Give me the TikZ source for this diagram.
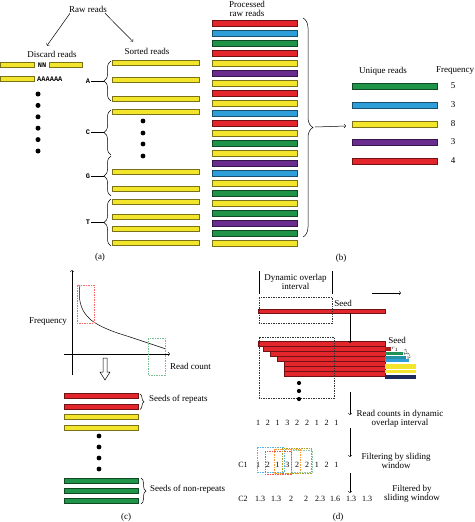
\documentclass[tikz,border=0pt]{standalone}
\usepackage{fontspec}
\setmainfont{Liberation Serif}
\setmonofont{Liberation Mono}
\usetikzlibrary{decorations.pathreplacing}
\definecolor{yel}{HTML}{F3E42C}
\definecolor{rd}{HTML}{E2262B}
\definecolor{bl}{HTML}{2E9ED8}
\definecolor{gr}{HTML}{1F9449}
\definecolor{pu}{HTML}{6A2D8F}
\definecolor{nv}{HTML}{1B2A5A}
\definecolor{tl}{HTML}{1C8C8C}
\definecolor{dr}{HTML}{A8201C}
\tikzset{
	bar/.style={draw=#1!50!black, fill=#1, line width=0.5pt},
	arr/.style={->, line width=0.5pt},
	brc/.style={decorate, decoration={brace, amplitude=#1}, line width=0.5pt},
	lbl/.style={font=\fontsize{9}{9.5}\selectfont, inner sep=1pt},
	nt/.style={font=\ttfamily\bfseries\fontsize{7}{8}\selectfont, inner sep=1pt},
	num/.style={font=\fontsize{8}{9}\selectfont, inner sep=0pt},
	win/.style={draw=#1, dashed, line width=0.4pt, dash pattern=on 1.5pt off 1pt}
}

\begin{document}
\begin{tikzpicture}[x=1pt,y=-1pt]
	\useasboundingbox (0,0) rectangle (474,522);

	% (a) raw reads
	\node[lbl] (raw) at (88,9) {Raw reads};
	\node[lbl] (discard) at (52,54) {Discard reads};
	\node[lbl] (sorted) at (147,51) {Sorted reads};
	\draw[arr] ([xshift=2pt]raw.south west) -- ([xshift=-5pt,yshift=4pt]discard.north);
	\draw[arr] ([xshift=-3pt]raw.south east) -- ([xshift=-14pt,yshift=5pt]sorted.north);

	\draw[bar=yel] (0.5,62.5) rectangle (34,67.5);
	\node[nt] (nn) at (42,65) {NN};
	\draw[bar=yel] (49,62.5) rectangle (82,67.5);
	\draw[bar=yel] (0.5,76.5) rectangle (34,81.5);
	\node[nt,anchor=west] (polya) at (36,79) {AAAAAA};
	\foreach \y in {94,105.4,116.8,128.2,139.6,151}
		\fill (38,\y) circle (2.5pt);

	\foreach \y in {63,80,99,112,172,189,202,217,229,243}
		\draw[bar=yel] (112,\y-2.5) rectangle (199,\y+2.5);
	\foreach \y in {121,133,144,156}
		\fill (143,\y) circle (2.4pt);

	% base braces
	\draw[brc=7pt] (111,101) -- (111,61);
	\draw[brc=7pt] (111,155) -- (111,110);
	\draw[brc=7pt] (111,196) -- (111,156);
	\draw[brc=7pt] (111,246) -- (111,199);
	\foreach \b/\y in {A/81,C/132.5,G/176,T/222.5}{
		\node[nt] (\b) at (88,\y) {\b};
		\coordinate (t\b) at (104,\y);
		\draw[line width=0.5pt] (\b) -- (t\b);
	}
	\node[lbl] (cap-a) at (100,257) {(a)};

	% (b) processed reads
	\node[lbl, align=center, font=\fontsize{9}{9}\selectfont] (proc) at (247,8.5) {Processed\\raw reads};
	\foreach \c [count=\i] in {rd,bl,gr,rd,yel,pu,yel,rd,yel,bl,rd,yel,gr,yel,pu,bl,yel,gr,yel,gr,pu,gr,yel}
		\draw[bar=\c] (212,{13+10*\i-2.8}) rectangle (297,{13+10*\i+2.8});
	\draw[brc=10pt] (303,18) -- (303,237);
	\coordinate (btip) at (315,127);

	\node[lbl] (uniq) at (383,71) {Unique reads};
	\node[lbl] (freq) at (455,71) {Frequency};
	\foreach \c/\f/\y [count=\i] in {gr/5/86,bl/3/105,yel/8/124,pu/3/142,rd/4/161}{
		\node[bar=\c, minimum width=85pt, minimum height=5.5pt, inner sep=0pt, anchor=west] (u\i) at (352,\y) {};
		\node[lbl] (f\i) at (453,\y) {\f};
	}
	\draw[arr] (btip) -- ([xshift=-6pt,yshift=-2pt]u3.west);
	\node[lbl] (cap-b) at (341,258) {(b)};

	% (c) frequency plot
	\draw[arr] (72,375) -- (72,270);
	\draw[arr] (64,354) -- (170,354);
	\node[lbl] (fq) at (48,322) {Frequency};
	\node[lbl, anchor=west] (rc) at (169,366) {Read count};
	\draw[line width=0.5pt] plot[smooth, tension=0.7] coordinates {(80,285) (79.3,296) (82,308) (88,317) (97,324) (112,331) (130,337) (148,343) (166,349)};
	\draw[win=red!60] (77,285) rectangle (94,323);
	\draw[win=gr!60!white] (148,338) rectangle (165,375);
	\draw[line width=0.5pt] (103,358) -- (107,358) -- (107,372) -- (110,372) -- (105,380) -- (100,372) -- (103,372) -- cycle;

	\foreach \c/\y in {rd/396,rd/407,yel/417,yel/428,gr/481,gr/491,gr/501}
		\draw[bar=\c] (64,\y-2.3) rectangle (138,\y+2.3);
	\foreach \y in {436,447,458,469}
		\fill (99,\y) circle (2.4pt);
	\draw[brc=4pt] (140,394) -- (140,409.5);
	\node[lbl, anchor=west] (srep) at (148,399) {Seeds of repeats};
	\draw[brc=5pt] (141,478) -- (141,504);
	\node[lbl, anchor=west] (snon) at (149,489) {Seeds of non-repeats};
	\node[lbl] (cap-c) at (126,517) {(c)};

	% (d) dynamic overlap interval
	\draw[line width=0.5pt] (259,271) -- (259,294);
	\draw[line width=0.5pt] (332,271) -- (332,294);
	\node[lbl, align=center] (dyn) at (295.5,282) {Dynamic overlap\\interval};
	\draw[bar=rd] (258,309) rectangle (385,313);
	\draw[win=black!80] (259,297) rectangle (332,323);
	\node[lbl] (seed1) at (343,303) {Seed};
	\coordinate (go0) at (372,293);
	\coordinate (go1) at (401,293);
	\draw[arr] (go0) -- (go1);

	\foreach \l [count=\i] in {258,263,270,277,284,284,284}
		\draw[bar=rd] (\l,{339+5*\i-2.3}) rectangle (385,{339+5*\i+2.3});
	\draw[win=black!80] (259,337) rectangle (334,398);
	\foreach \y in {383,391,399}
		\fill (299,\y) circle (2.1pt);
	\node[lbl, inner sep=0pt] (seed2) at (397,340.5) {Seed};
	\fill[dr] (385,347) rectangle (391,350.5);
	\fill[gr!80!tl] (385,351.5) rectangle (403,355);
	\fill[tl!70!bl] (385,355.5) rectangle (406,358.5);
	\fill[bl] (385,358.5) rectangle (409,362);
	\fill[yel] (385,364) rectangle (416,368.5);
	\fill[yel] (385,369.5) rectangle (416,373);
	\fill[nv] (385,375) rectangle (416,378.5);
	\node[font=\fontsize{3.5}{4}\selectfont, inner sep=0pt] (r1) at (395,349.5) {$r_1$};
	\node[font=\fontsize{3.5}{4}\selectfont, inner sep=0pt, rotate=-70] (r2) at (405.5,352.5) {$r_2$};
	\node[font=\fontsize{3.5}{4}\selectfont, inner sep=0pt, rotate=-70] (r3) at (408.5,356.5) {$r_3$};

	% steps down the column
	\coordinate (d0) at (350,313);
	\coordinate (d1) at (350,343);
	\coordinate (d2) at (350,392);
	\coordinate (d3) at (350,415);
	\coordinate (d4) at (350,428);
	\coordinate (d5) at (350,457);
	\coordinate (d6) at (350,473);
	\coordinate (d7) at (350,493);
	\draw[arr] (d0) -- (d1);
	\draw[arr] (d2) -- (d3);
	\draw[arr] (d4) -- (d5);
	\draw[arr] (d6) -- (d7);
	\node[lbl, align=center] (rcd) at (400,419) {Read counts in dynamic\\overlap interval};
	\node[lbl, align=center] (flt) at (396,461) {Filtering by sliding\\window};
	\node[lbl, align=center] (fld) at (412,494) {Filtered by\\sliding window};

	\foreach \v [count=\i] in {1,2,1,3,2,2,1,2,1}{
		\node[num] (a\i) at ({248.2+9.8*\i},423) {\v};
		\node[num] (c\i) at ({248.2+9.8*\i},465) {\v};
	}
	\node[num] (c1lbl) at (243,465) {C1};
	\draw[win=bl!80] (257,447) rectangle (284,472);
	\draw[win=red!70] (265,451) rectangle (291,474);
	\draw[win=orange!80] (274,449) rectangle (300,473);
	\draw[win=yel!70!black] (282,448) rectangle (311,473);
	\draw[win=gr!50!white] (291,450) rectangle (312,472);

	\node[num] (c2lbl) at (243,499) {C2};
	\foreach \v/\x [count=\i] in {1.3/260,1.3/276,2/291,2/306,2.3/320,1.6/335,1.3/351,1.3/367}
		\node[num] (e\i) at (\x,499) {\v};
	\node[lbl] (cap-d) at (338,517) {(d)};
\end{tikzpicture}
\end{document}
